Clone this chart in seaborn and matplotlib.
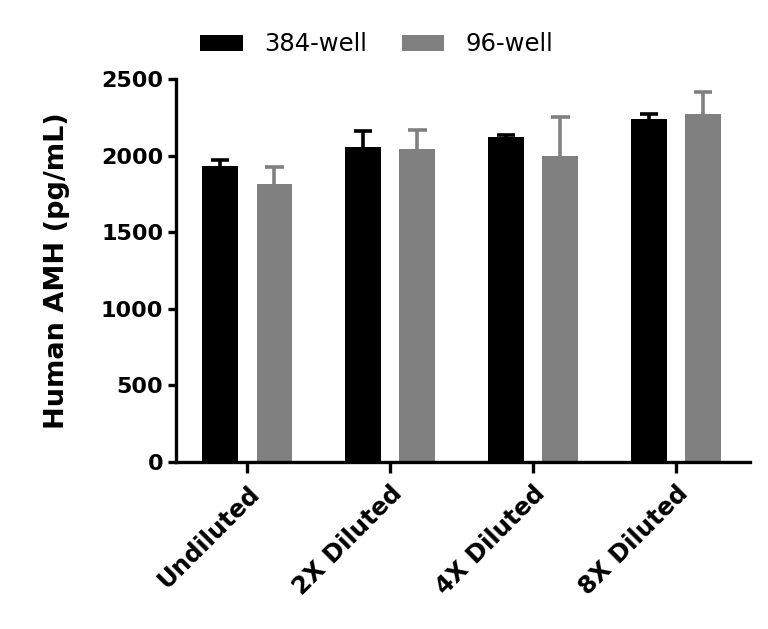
import numpy as np
import pandas as pd
import matplotlib
matplotlib.use("Agg")
import matplotlib.pyplot as plt
import seaborn as sns

# Values
dilutions = ['Undiluted', '2X Diluted', '4X Diluted', '8X Diluted']
formats = ['384-well', '96-well']
mean_384 = [1934, 2058, 2121, 2237]
mean_96 = [1817, 2045, 1999, 2272]
err_384 = [37, 103, 11, 36]
err_96 = [107, 120, 255, 143]
y_ticks = [0, 500, 1000, 1500, 2000, 2500]
palette = {'384-well': '#000000', '96-well': '#808080'}


def main():
    sns.set_theme(style="white")
    plt.rcParams['font.family'] = ['DejaVu Sans']
    plt.rcParams['text.color'] = 'black'
    plt.rcParams['xtick.color'] = 'black'
    plt.rcParams['ytick.color'] = 'black'
    plt.rcParams['axes.labelcolor'] = 'black'

    df = pd.DataFrame({
        'dilution': dilutions * 2,
        'format': [formats[0]] * 4 + [formats[1]] * 4,
        'conc': mean_384 + mean_96,
        'err': err_384 + err_96,
    })

    fig = plt.figure(figsize=(7.68, 6.29), dpi=100)
    ax = fig.add_axes([0.229, 0.2655, 0.748, 0.609])

    sns.barplot(data=df, x='dilution', y='conc', hue='format', order=dilutions,
                hue_order=formats, palette=palette, errorbar=None,
                width=0.76, gap=0.34, saturation=1, linewidth=0, ax=ax)

    # upper-only error bars (SD), no cap at the bar top
    cap = 0.065
    for i, fmt in enumerate(formats):
        sub = df[df['format'] == fmt]
        bars = ax.containers[i]
        xs = np.array([b.get_x() + b.get_width() / 2 for b in bars])
        tops = sub['conc'].values + sub['err'].values
        ax.vlines(xs, sub['conc'].values, tops, color=palette[fmt], lw=2.6, zorder=1)
        ax.hlines(tops, xs - cap, xs + cap, color=palette[fmt], lw=2.6, zorder=1)

    ax.set_ylim(0, 2500)
    ax.set_xlim(-0.5, 3.52)
    ax.set_yticks(y_ticks)
    ax.set_yticklabels([str(t) for t in y_ticks], fontsize=16, fontweight='bold')
    ax.set_xticks(range(len(dilutions)))
    ax.set_xticklabels(dilutions, rotation=45, ha='right', rotation_mode='anchor',
                       fontsize=17.5, fontweight='bold')
    ax.set_xlabel('')
    ax.set_ylabel('Human AMH (pg/mL)', fontsize=19.5, fontweight='bold', labelpad=22)

    sns.despine(ax=ax)
    for side in ['left', 'bottom']:
        ax.spines[side].set_linewidth(2.4)
        ax.spines[side].set_color('black')
    ax.tick_params(axis='y', direction='out', length=6, width=2.4, left=True, pad=3)
    ax.tick_params(axis='x', direction='out', length=8, width=2.4, bottom=True, pad=6)

    leg = ax.legend(loc='center', bbox_to_anchor=(0.35, 1.09), ncol=2, frameon=False,
                    fontsize=17.5, handlelength=1.75, handleheight=0.66,
                    columnspacing=1.4, handletextpad=0.9)
    leg.set_title(None)

    fig.savefig('out.png', dpi=100)
    plt.close(fig)


if __name__ == '__main__':
    main()
